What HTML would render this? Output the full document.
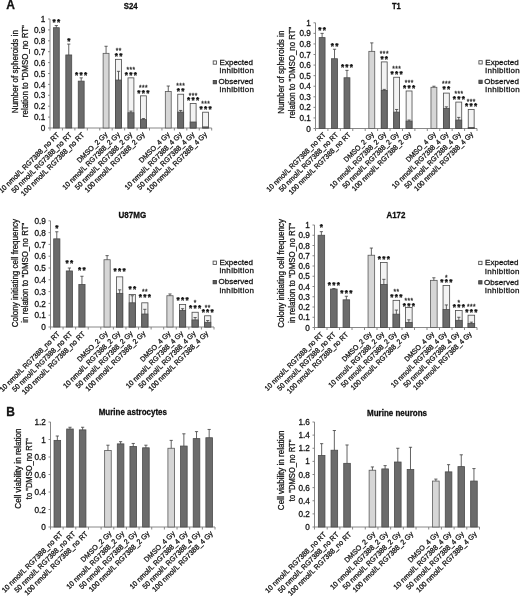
<!DOCTYPE html>
<html><head><meta charset="utf-8"><title>Figure</title>
<style>
html,body{margin:0;padding:0;background:#fff;}
body{width:520px;height:597px;overflow:hidden;}
svg{display:block;font-family:"Liberation Sans", sans-serif;}
svg text{fill:#141414;stroke:#141414;stroke-width:0.28px;}
</style></head><body>
<svg width="520" height="597" viewBox="0 0 520 597">
<rect width="520" height="597" fill="#ffffff"/>
<text x="6.3" y="9.2" font-size="12" font-weight="bold" style="fill:#111">A</text>
<text x="6.3" y="416" font-size="12" font-weight="bold" style="fill:#111">B</text>
<path d="M50 19V128H211.7" fill="none" stroke="#7a7a7a" stroke-width="0.9"/>
<text x="45.3" y="131.1" text-anchor="end" font-size="8.2">0</text>
<text x="45.3" y="120.2" text-anchor="end" font-size="8.2">0.1</text>
<text x="45.3" y="109.3" text-anchor="end" font-size="8.2">0.2</text>
<text x="45.3" y="98.4" text-anchor="end" font-size="8.2">0.3</text>
<text x="45.3" y="87.5" text-anchor="end" font-size="8.2">0.4</text>
<text x="45.3" y="76.6" text-anchor="end" font-size="8.2">0.5</text>
<text x="45.3" y="65.7" text-anchor="end" font-size="8.2">0.6</text>
<text x="45.3" y="54.8" text-anchor="end" font-size="8.2">0.7</text>
<text x="45.3" y="43.9" text-anchor="end" font-size="8.2">0.8</text>
<text x="45.3" y="33" text-anchor="end" font-size="8.2">0.9</text>
<text x="45.3" y="22.1" text-anchor="end" font-size="8.2">1</text>
<path d="M48 128H50M48 117.1H50M48 106.2H50M48 95.3H50M48 84.4H50M48 73.5H50M48 62.6H50M48 51.7H50M48 40.8H50M48 29.9H50M48 19H50M50 128V130.5M62.44 128V130.5M74.88 128V130.5M87.32 128V130.5M99.75 128V130.5M112.19 128V130.5M124.63 128V130.5M137.07 128V130.5M149.51 128V130.5M161.95 128V130.5M174.38 128V130.5M186.82 128V130.5M199.26 128V130.5M211.7 128V130.5" stroke="#7a7a7a" stroke-width="0.9" fill="none"/>
<rect x="53.37" y="27.72" width="5.9" height="100.28" fill="#6b6b6b" stroke="#4a4a4a" stroke-width="0.8"/>
<path d="M56.32 27.72V25.54M54.72 25.54H57.92" stroke="#3c3c3c" stroke-width="0.8" fill="none"/>
<text x="56.97" y="25.42" text-anchor="middle" font-size="8.2" font-weight="bold" letter-spacing="1.3" style="fill:#0a0a0a;stroke:#0a0a0a;stroke-width:0.25">**</text>
<rect x="65.81" y="54.97" width="5.9" height="73.03" fill="#6b6b6b" stroke="#4a4a4a" stroke-width="0.8"/>
<path d="M68.76 54.97V44.07M67.16 44.07H70.36" stroke="#3c3c3c" stroke-width="0.8" fill="none"/>
<text x="69.41" y="43.95" text-anchor="middle" font-size="8.2" font-weight="bold" letter-spacing="1.3" style="fill:#0a0a0a;stroke:#0a0a0a;stroke-width:0.25">*</text>
<rect x="78.25" y="81.13" width="5.9" height="46.87" fill="#6b6b6b" stroke="#4a4a4a" stroke-width="0.8"/>
<path d="M81.2 81.13V77.86M79.6 77.86H82.8" stroke="#3c3c3c" stroke-width="0.8" fill="none"/>
<text x="81.85" y="77.74" text-anchor="middle" font-size="8.2" font-weight="bold" letter-spacing="1.3" style="fill:#0a0a0a;stroke:#0a0a0a;stroke-width:0.25">***</text>
<rect x="103.12" y="53.33" width="5.9" height="74.67" fill="#d6d6d6" stroke="#5a5a5a" stroke-width="0.8"/>
<path d="M106.07 53.33V46.25M104.47 46.25H107.67" stroke="#3c3c3c" stroke-width="0.8" fill="none"/>
<rect x="115.56" y="59.33" width="5.9" height="68.67" fill="#f3f3f3" stroke="#4a4a4a" stroke-width="0.8"/>
<rect x="115.56" y="80.04" width="5.9" height="47.96" fill="#6b6b6b" stroke="#4a4a4a" stroke-width="0.8"/>
<path d="M118.51 80.04V71.32M116.91 71.32H120.11" stroke="#3c3c3c" stroke-width="0.8" fill="none"/>
<text x="119.16" y="59.21" text-anchor="middle" font-size="8.2" font-weight="bold" letter-spacing="1.3" style="fill:#0a0a0a;stroke:#0a0a0a;stroke-width:0.25">**</text>
<text x="118.66" y="53.46" text-anchor="middle" font-size="6.6" letter-spacing="0.45" style="fill:#333;stroke:#333;stroke-width:0.3">**</text>
<rect x="128" y="77.86" width="5.9" height="50.14" fill="#f3f3f3" stroke="#4a4a4a" stroke-width="0.8"/>
<rect x="128" y="112.74" width="5.9" height="15.26" fill="#6b6b6b" stroke="#4a4a4a" stroke-width="0.8"/>
<path d="M130.95 112.74V111.1M129.35 111.1H132.55" stroke="#3c3c3c" stroke-width="0.8" fill="none"/>
<text x="131.6" y="77.74" text-anchor="middle" font-size="8.2" font-weight="bold" letter-spacing="1.3" style="fill:#0a0a0a;stroke:#0a0a0a;stroke-width:0.25">***</text>
<text x="131.1" y="71.99" text-anchor="middle" font-size="6.6" letter-spacing="0.45" style="fill:#333;stroke:#333;stroke-width:0.3">***</text>
<rect x="140.44" y="95.84" width="5.9" height="32.16" fill="#f3f3f3" stroke="#4a4a4a" stroke-width="0.8"/>
<rect x="140.44" y="119.61" width="5.9" height="8.39" fill="#6b6b6b" stroke="#4a4a4a" stroke-width="0.8"/>
<path d="M143.39 119.61V118.52M141.79 118.52H144.99" stroke="#3c3c3c" stroke-width="0.8" fill="none"/>
<text x="144.04" y="95.73" text-anchor="middle" font-size="8.2" font-weight="bold" letter-spacing="1.3" style="fill:#0a0a0a;stroke:#0a0a0a;stroke-width:0.25">***</text>
<text x="143.54" y="89.98" text-anchor="middle" font-size="6.6" letter-spacing="0.45" style="fill:#333;stroke:#333;stroke-width:0.3">***</text>
<rect x="165.32" y="91.48" width="5.9" height="36.52" fill="#d6d6d6" stroke="#5a5a5a" stroke-width="0.8"/>
<path d="M168.27 91.48V86.03M166.67 86.03H169.87" stroke="#3c3c3c" stroke-width="0.8" fill="none"/>
<rect x="177.75" y="94.21" width="5.9" height="33.79" fill="#f3f3f3" stroke="#4a4a4a" stroke-width="0.8"/>
<rect x="177.75" y="112.09" width="5.9" height="15.91" fill="#6b6b6b" stroke="#4a4a4a" stroke-width="0.8"/>
<path d="M180.7 112.09V110.45M179.1 110.45H182.3" stroke="#3c3c3c" stroke-width="0.8" fill="none"/>
<text x="181.35" y="94.09" text-anchor="middle" font-size="8.2" font-weight="bold" letter-spacing="1.3" style="fill:#0a0a0a;stroke:#0a0a0a;stroke-width:0.25">**</text>
<text x="180.85" y="88.34" text-anchor="middle" font-size="6.6" letter-spacing="0.45" style="fill:#333;stroke:#333;stroke-width:0.3">***</text>
<rect x="190.19" y="103.47" width="5.9" height="24.53" fill="#f3f3f3" stroke="#4a4a4a" stroke-width="0.8"/>
<rect x="190.19" y="122" width="5.9" height="6" fill="#6b6b6b" stroke="#4a4a4a" stroke-width="0.8"/>
<text x="193.79" y="103.36" text-anchor="middle" font-size="8.2" font-weight="bold" letter-spacing="1.3" style="fill:#0a0a0a;stroke:#0a0a0a;stroke-width:0.25">***</text>
<text x="193.29" y="97.61" text-anchor="middle" font-size="6.6" letter-spacing="0.45" style="fill:#333;stroke:#333;stroke-width:0.3">***</text>
<rect x="202.63" y="112.19" width="5.9" height="15.81" fill="#f3f3f3" stroke="#4a4a4a" stroke-width="0.8"/>
<rect x="202.63" y="126.91" width="5.9" height="1.09" fill="#6b6b6b" stroke="#4a4a4a" stroke-width="0.8"/>
<text x="206.23" y="112.08" text-anchor="middle" font-size="8.2" font-weight="bold" letter-spacing="1.3" style="fill:#0a0a0a;stroke:#0a0a0a;stroke-width:0.25">***</text>
<text x="205.73" y="106.33" text-anchor="middle" font-size="6.6" letter-spacing="0.45" style="fill:#333;stroke:#333;stroke-width:0.3">***</text>
<text transform="translate(59.82 135.5) rotate(-45) scale(0.985 1)" text-anchor="end" font-size="7.2">10 nmol/L RG7388_no RT</text>
<text transform="translate(72.26 135.5) rotate(-45) scale(0.985 1)" text-anchor="end" font-size="7.2">50 nmol/L RG7388_no RT</text>
<text transform="translate(84.7 135.5) rotate(-45) scale(0.985 1)" text-anchor="end" font-size="7.2">100 nmol/L RG7388_no RT</text>
<text transform="translate(107.97 135) rotate(-45) scale(0.985 1)" text-anchor="end" font-size="7.2">DMSO_2 Gy</text>
<text transform="translate(120.41 135) rotate(-45) scale(0.985 1)" text-anchor="end" font-size="7.2">10 nmol/L RG7388_2 Gy</text>
<text transform="translate(132.85 135) rotate(-45) scale(0.985 1)" text-anchor="end" font-size="7.2">50 nmol/L RG7388_2 Gy</text>
<text transform="translate(145.29 135) rotate(-45) scale(0.985 1)" text-anchor="end" font-size="7.2">100 nmol/L RG7388_2 Gy</text>
<text transform="translate(170.17 135) rotate(-45) scale(0.985 1)" text-anchor="end" font-size="7.2">DMSO_4 Gy</text>
<text transform="translate(182.6 135) rotate(-45) scale(0.985 1)" text-anchor="end" font-size="7.2">10 nmol/L RG7388_4 Gy</text>
<text transform="translate(195.04 135) rotate(-45) scale(0.985 1)" text-anchor="end" font-size="7.2">50 nmol/L RG7388_4 Gy</text>
<text transform="translate(207.48 135) rotate(-45) scale(0.985 1)" text-anchor="end" font-size="7.2">100 nmol/L RG7388_4 Gy</text>
<text transform="translate(130.7 9) scale(0.9300 1)" text-anchor="middle" font-size="8.4" font-weight="bold" style="fill:#0a0a0a">S24</text>
<text transform="translate(17.5 71.65) rotate(-90) scale(0.9456 1)" text-anchor="middle" font-size="8.5">Number of spheroids in</text>
<text transform="translate(27.6 71.1) rotate(-90) scale(0.9318 1)" text-anchor="middle" font-size="8.5">relation to "DMSO_no RT"</text>
<rect x="213.2" y="60.9" width="3.3" height="3.3" fill="#fafafa" stroke="#4a4a4a" stroke-width="0.85"/>
<text x="219.6" y="64.8" font-size="8">Expected</text>
<text x="219.6" y="72.5" font-size="8" letter-spacing="0.32">inhibition</text>
<rect x="213.2" y="80.5" width="3.3" height="3.3" fill="#5e5e5e" stroke="#3c3c3c" stroke-width="0.85"/>
<text x="218.6" y="84.4" font-size="8">Observed</text>
<text x="219.6" y="92.1" font-size="8" letter-spacing="0.32">inhibition</text>
<path d="M315.5 22.8V128.5H477" fill="none" stroke="#7a7a7a" stroke-width="0.9"/>
<text x="310.8" y="131.6" text-anchor="end" font-size="8.2">0</text>
<text x="310.8" y="121.03" text-anchor="end" font-size="8.2">0.1</text>
<text x="310.8" y="110.46" text-anchor="end" font-size="8.2">0.2</text>
<text x="310.8" y="99.89" text-anchor="end" font-size="8.2">0.3</text>
<text x="310.8" y="89.32" text-anchor="end" font-size="8.2">0.4</text>
<text x="310.8" y="78.75" text-anchor="end" font-size="8.2">0.5</text>
<text x="310.8" y="68.18" text-anchor="end" font-size="8.2">0.6</text>
<text x="310.8" y="57.61" text-anchor="end" font-size="8.2">0.7</text>
<text x="310.8" y="47.04" text-anchor="end" font-size="8.2">0.8</text>
<text x="310.8" y="36.47" text-anchor="end" font-size="8.2">0.9</text>
<text x="310.8" y="25.9" text-anchor="end" font-size="8.2">1</text>
<path d="M313.5 128.5H315.5M313.5 117.93H315.5M313.5 107.36H315.5M313.5 96.79H315.5M313.5 86.22H315.5M313.5 75.65H315.5M313.5 65.08H315.5M313.5 54.51H315.5M313.5 43.94H315.5M313.5 33.37H315.5M313.5 22.8H315.5M315.5 128.5V131M327.92 128.5V131M340.35 128.5V131M352.77 128.5V131M365.19 128.5V131M377.62 128.5V131M390.04 128.5V131M402.46 128.5V131M414.88 128.5V131M427.31 128.5V131M439.73 128.5V131M452.15 128.5V131M464.58 128.5V131M477 128.5V131" stroke="#7a7a7a" stroke-width="0.9" fill="none"/>
<rect x="319.16" y="37.6" width="5.9" height="90.9" fill="#6b6b6b" stroke="#4a4a4a" stroke-width="0.8"/>
<path d="M322.11 37.6V33.37M320.51 33.37H323.71" stroke="#3c3c3c" stroke-width="0.8" fill="none"/>
<text x="322.76" y="33.25" text-anchor="middle" font-size="8.2" font-weight="bold" letter-spacing="1.3" style="fill:#0a0a0a;stroke:#0a0a0a;stroke-width:0.25">**</text>
<rect x="331.58" y="58.74" width="5.9" height="69.76" fill="#6b6b6b" stroke="#4a4a4a" stroke-width="0.8"/>
<path d="M334.53 58.74V49.22M332.93 49.22H336.13" stroke="#3c3c3c" stroke-width="0.8" fill="none"/>
<text x="335.18" y="49.11" text-anchor="middle" font-size="8.2" font-weight="bold" letter-spacing="1.3" style="fill:#0a0a0a;stroke:#0a0a0a;stroke-width:0.25">**</text>
<rect x="344.01" y="77.76" width="5.9" height="50.74" fill="#6b6b6b" stroke="#4a4a4a" stroke-width="0.8"/>
<path d="M346.96 77.76V70.36M345.36 70.36H348.56" stroke="#3c3c3c" stroke-width="0.8" fill="none"/>
<text x="347.61" y="70.25" text-anchor="middle" font-size="8.2" font-weight="bold" letter-spacing="1.3" style="fill:#0a0a0a;stroke:#0a0a0a;stroke-width:0.25">***</text>
<rect x="368.85" y="51.34" width="5.9" height="77.16" fill="#d6d6d6" stroke="#5a5a5a" stroke-width="0.8"/>
<path d="M371.8 51.34V42.88M370.2 42.88H373.4" stroke="#3c3c3c" stroke-width="0.8" fill="none"/>
<rect x="381.28" y="61.91" width="5.9" height="66.59" fill="#f3f3f3" stroke="#4a4a4a" stroke-width="0.8"/>
<rect x="381.28" y="90.45" width="5.9" height="38.05" fill="#6b6b6b" stroke="#4a4a4a" stroke-width="0.8"/>
<path d="M384.23 90.45V89.39M382.63 89.39H385.83" stroke="#3c3c3c" stroke-width="0.8" fill="none"/>
<text x="384.88" y="61.79" text-anchor="middle" font-size="8.2" font-weight="bold" letter-spacing="1.3" style="fill:#0a0a0a;stroke:#0a0a0a;stroke-width:0.25">**</text>
<text x="384.38" y="56.04" text-anchor="middle" font-size="6.6" letter-spacing="0.45" style="fill:#333;stroke:#333;stroke-width:0.3">***</text>
<rect x="393.7" y="77.24" width="5.9" height="51.26" fill="#f3f3f3" stroke="#4a4a4a" stroke-width="0.8"/>
<rect x="393.7" y="112.12" width="5.9" height="16.38" fill="#6b6b6b" stroke="#4a4a4a" stroke-width="0.8"/>
<path d="M396.65 112.12V109.47M395.05 109.47H398.25" stroke="#3c3c3c" stroke-width="0.8" fill="none"/>
<text x="397.3" y="77.12" text-anchor="middle" font-size="8.2" font-weight="bold" letter-spacing="1.3" style="fill:#0a0a0a;stroke:#0a0a0a;stroke-width:0.25">***</text>
<text x="396.8" y="71.37" text-anchor="middle" font-size="6.6" letter-spacing="0.45" style="fill:#333;stroke:#333;stroke-width:0.3">***</text>
<rect x="406.12" y="90.98" width="5.9" height="37.52" fill="#f3f3f3" stroke="#4a4a4a" stroke-width="0.8"/>
<rect x="406.12" y="121.1" width="5.9" height="7.4" fill="#6b6b6b" stroke="#4a4a4a" stroke-width="0.8"/>
<path d="M409.07 121.1V120.04M407.47 120.04H410.67" stroke="#3c3c3c" stroke-width="0.8" fill="none"/>
<text x="409.72" y="90.86" text-anchor="middle" font-size="8.2" font-weight="bold" letter-spacing="1.3" style="fill:#0a0a0a;stroke:#0a0a0a;stroke-width:0.25">***</text>
<text x="409.22" y="85.11" text-anchor="middle" font-size="6.6" letter-spacing="0.45" style="fill:#333;stroke:#333;stroke-width:0.3">***</text>
<rect x="430.97" y="87.28" width="5.9" height="41.22" fill="#d6d6d6" stroke="#5a5a5a" stroke-width="0.8"/>
<path d="M433.92 87.28V86.22M432.32 86.22H435.52" stroke="#3c3c3c" stroke-width="0.8" fill="none"/>
<rect x="443.39" y="93.09" width="5.9" height="35.41" fill="#f3f3f3" stroke="#4a4a4a" stroke-width="0.8"/>
<rect x="443.39" y="108.42" width="5.9" height="20.08" fill="#6b6b6b" stroke="#4a4a4a" stroke-width="0.8"/>
<path d="M446.34 108.42V106.83M444.74 106.83H447.94" stroke="#3c3c3c" stroke-width="0.8" fill="none"/>
<text x="446.99" y="91.77" text-anchor="middle" font-size="8.2" font-weight="bold" letter-spacing="1.3" style="fill:#0a0a0a;stroke:#0a0a0a;stroke-width:0.25">**</text>
<text x="446.49" y="86.02" text-anchor="middle" font-size="6.6" letter-spacing="0.45" style="fill:#333;stroke:#333;stroke-width:0.3">***</text>
<rect x="455.82" y="102.08" width="5.9" height="26.42" fill="#f3f3f3" stroke="#4a4a4a" stroke-width="0.8"/>
<rect x="455.82" y="120.04" width="5.9" height="8.46" fill="#6b6b6b" stroke="#4a4a4a" stroke-width="0.8"/>
<path d="M458.77 120.04V117.4M457.17 117.4H460.37" stroke="#3c3c3c" stroke-width="0.8" fill="none"/>
<text x="459.42" y="101.96" text-anchor="middle" font-size="8.2" font-weight="bold" letter-spacing="1.3" style="fill:#0a0a0a;stroke:#0a0a0a;stroke-width:0.25">***</text>
<text x="458.92" y="96.21" text-anchor="middle" font-size="6.6" letter-spacing="0.45" style="fill:#333;stroke:#333;stroke-width:0.3">***</text>
<rect x="468.24" y="109.47" width="5.9" height="19.03" fill="#f3f3f3" stroke="#4a4a4a" stroke-width="0.8"/>
<rect x="468.24" y="127.44" width="5.9" height="1.06" fill="#6b6b6b" stroke="#4a4a4a" stroke-width="0.8"/>
<text x="471.84" y="109.36" text-anchor="middle" font-size="8.2" font-weight="bold" letter-spacing="1.3" style="fill:#0a0a0a;stroke:#0a0a0a;stroke-width:0.25">***</text>
<text x="471.34" y="103.61" text-anchor="middle" font-size="6.6" letter-spacing="0.45" style="fill:#333;stroke:#333;stroke-width:0.3">***</text>
<text transform="translate(326.31 135.3) rotate(-45) scale(0.965 1)" text-anchor="end" font-size="7.2">10 nmol/L RG7388_no RT</text>
<text transform="translate(338.73 135.3) rotate(-45) scale(0.965 1)" text-anchor="end" font-size="7.2">50 nmol/L RG7388_no RT</text>
<text transform="translate(351.16 135.3) rotate(-45) scale(0.965 1)" text-anchor="end" font-size="7.2">100 nmol/L RG7388_no RT</text>
<text transform="translate(374.4 134.8) rotate(-45) scale(0.965 1)" text-anchor="end" font-size="7.2">DMSO_2 Gy</text>
<text transform="translate(386.83 134.8) rotate(-45) scale(0.965 1)" text-anchor="end" font-size="7.2">10 nmol/L RG7388_2 Gy</text>
<text transform="translate(399.25 134.8) rotate(-45) scale(0.965 1)" text-anchor="end" font-size="7.2">50 nmol/L RG7388_2 Gy</text>
<text transform="translate(411.67 134.8) rotate(-45) scale(0.965 1)" text-anchor="end" font-size="7.2">100 nmol/L RG7388_2 Gy</text>
<text transform="translate(436.52 134.8) rotate(-45) scale(0.965 1)" text-anchor="end" font-size="7.2">DMSO_4 Gy</text>
<text transform="translate(448.94 134.8) rotate(-45) scale(0.965 1)" text-anchor="end" font-size="7.2">10 nmol/L RG7388_4 Gy</text>
<text transform="translate(461.37 134.8) rotate(-45) scale(0.965 1)" text-anchor="end" font-size="7.2">50 nmol/L RG7388_4 Gy</text>
<text transform="translate(473.79 134.8) rotate(-45) scale(0.965 1)" text-anchor="end" font-size="7.2">100 nmol/L RG7388_4 Gy</text>
<text transform="translate(396.4 8.8) scale(0.8977 1)" text-anchor="middle" font-size="8.4" font-weight="bold" style="fill:#0a0a0a">T1</text>
<text transform="translate(283.7 72.15) rotate(-90) scale(0.9456 1)" text-anchor="middle" font-size="8.5">Number of spheroids in</text>
<text transform="translate(295 72.4) rotate(-90) scale(0.9258 1)" text-anchor="middle" font-size="8.5">relation to "DMSO_no RT"</text>
<rect x="478.9" y="60.7" width="3.3" height="3.3" fill="#fafafa" stroke="#4a4a4a" stroke-width="0.85"/>
<text x="485.3" y="64.6" font-size="8">Expected</text>
<text x="485.3" y="72.9" font-size="8" letter-spacing="0.32">inhibition</text>
<rect x="478.9" y="80.2" width="3.3" height="3.3" fill="#5e5e5e" stroke="#3c3c3c" stroke-width="0.85"/>
<text x="484.3" y="84.1" font-size="8">Observed</text>
<text x="485.3" y="92.3" font-size="8" letter-spacing="0.32">inhibition</text>
<path d="M50.5 220.8V327H214" fill="none" stroke="#7a7a7a" stroke-width="0.9"/>
<text x="45.8" y="330.1" text-anchor="end" font-size="8.2">0</text>
<text x="45.8" y="318.3" text-anchor="end" font-size="8.2">0.1</text>
<text x="45.8" y="306.5" text-anchor="end" font-size="8.2">0.2</text>
<text x="45.8" y="294.7" text-anchor="end" font-size="8.2">0.3</text>
<text x="45.8" y="282.9" text-anchor="end" font-size="8.2">0.4</text>
<text x="45.8" y="271.1" text-anchor="end" font-size="8.2">0.5</text>
<text x="45.8" y="259.3" text-anchor="end" font-size="8.2">0.6</text>
<text x="45.8" y="247.5" text-anchor="end" font-size="8.2">0.7</text>
<text x="45.8" y="235.7" text-anchor="end" font-size="8.2">0.8</text>
<text x="45.8" y="223.9" text-anchor="end" font-size="8.2">0.9</text>
<path d="M48.5 327H50.5M48.5 315.2H50.5M48.5 303.4H50.5M48.5 291.6H50.5M48.5 279.8H50.5M48.5 268H50.5M48.5 256.2H50.5M48.5 244.4H50.5M48.5 232.6H50.5M48.5 220.8H50.5M50.5 327V329.5M63.08 327V329.5M75.65 327V329.5M88.23 327V329.5M100.81 327V329.5M113.38 327V329.5M125.96 327V329.5M138.54 327V329.5M151.12 327V329.5M163.69 327V329.5M176.27 327V329.5M188.85 327V329.5M201.42 327V329.5M214 327V329.5" stroke="#7a7a7a" stroke-width="0.9" fill="none"/>
<rect x="53.69" y="238.85" width="6.2" height="88.15" fill="#6b6b6b" stroke="#4a4a4a" stroke-width="0.8"/>
<path d="M56.79 238.85V231.77M55.19 231.77H58.39" stroke="#3c3c3c" stroke-width="0.8" fill="none"/>
<text x="57.44" y="230.66" text-anchor="middle" font-size="8.2" font-weight="bold" letter-spacing="1.3" style="fill:#0a0a0a;stroke:#0a0a0a;stroke-width:0.25">*</text>
<rect x="66.27" y="270.95" width="6.2" height="56.05" fill="#6b6b6b" stroke="#4a4a4a" stroke-width="0.8"/>
<path d="M69.37 270.95V268M67.77 268H70.97" stroke="#3c3c3c" stroke-width="0.8" fill="none"/>
<text x="70.02" y="265.68" text-anchor="middle" font-size="8.2" font-weight="bold" letter-spacing="1.3" style="fill:#0a0a0a;stroke:#0a0a0a;stroke-width:0.25">**</text>
<rect x="78.84" y="284.52" width="6.2" height="42.48" fill="#6b6b6b" stroke="#4a4a4a" stroke-width="0.8"/>
<path d="M81.94 284.52V276.26M80.34 276.26H83.54" stroke="#3c3c3c" stroke-width="0.8" fill="none"/>
<text x="82.59" y="273.14" text-anchor="middle" font-size="8.2" font-weight="bold" letter-spacing="1.3" style="fill:#0a0a0a;stroke:#0a0a0a;stroke-width:0.25">**</text>
<rect x="104" y="259.74" width="6.2" height="67.26" fill="#d6d6d6" stroke="#5a5a5a" stroke-width="0.8"/>
<path d="M107.1 259.74V255.61M105.5 255.61H108.7" stroke="#3c3c3c" stroke-width="0.8" fill="none"/>
<rect x="116.57" y="276.85" width="6.2" height="50.15" fill="#f3f3f3" stroke="#4a4a4a" stroke-width="0.8"/>
<rect x="116.57" y="293.37" width="6.2" height="33.63" fill="#6b6b6b" stroke="#4a4a4a" stroke-width="0.8"/>
<path d="M119.67 293.37V289.83M118.07 289.83H121.27" stroke="#3c3c3c" stroke-width="0.8" fill="none"/>
<text x="120.32" y="273.73" text-anchor="middle" font-size="8.2" font-weight="bold" letter-spacing="1.3" style="fill:#0a0a0a;stroke:#0a0a0a;stroke-width:0.25">***</text>
<rect x="129.15" y="294.55" width="6.2" height="32.45" fill="#f3f3f3" stroke="#4a4a4a" stroke-width="0.8"/>
<rect x="129.15" y="302.81" width="6.2" height="24.19" fill="#6b6b6b" stroke="#4a4a4a" stroke-width="0.8"/>
<path d="M132.25 302.81V295.73M130.65 295.73H133.85" stroke="#3c3c3c" stroke-width="0.8" fill="none"/>
<text x="132.9" y="292.43" text-anchor="middle" font-size="8.2" font-weight="bold" letter-spacing="1.3" style="fill:#0a0a0a;stroke:#0a0a0a;stroke-width:0.25">**</text>
<rect x="141.73" y="302.81" width="6.2" height="24.19" fill="#f3f3f3" stroke="#4a4a4a" stroke-width="0.8"/>
<rect x="141.73" y="314.02" width="6.2" height="12.98" fill="#6b6b6b" stroke="#4a4a4a" stroke-width="0.8"/>
<path d="M144.83 314.02V309.3M143.23 309.3H146.43" stroke="#3c3c3c" stroke-width="0.8" fill="none"/>
<text x="145.48" y="300.29" text-anchor="middle" font-size="8.2" font-weight="bold" letter-spacing="1.3" style="fill:#0a0a0a;stroke:#0a0a0a;stroke-width:0.25">***</text>
<text x="144.98" y="293.54" text-anchor="middle" font-size="6.6" letter-spacing="0.45" style="fill:#333;stroke:#333;stroke-width:0.3">**</text>
<rect x="166.88" y="295.73" width="6.2" height="31.27" fill="#d6d6d6" stroke="#5a5a5a" stroke-width="0.8"/>
<path d="M169.98 295.73V293.96M168.38 293.96H171.58" stroke="#3c3c3c" stroke-width="0.8" fill="none"/>
<rect x="179.46" y="304.58" width="6.2" height="22.42" fill="#f3f3f3" stroke="#4a4a4a" stroke-width="0.8"/>
<rect x="179.46" y="310.48" width="6.2" height="16.52" fill="#6b6b6b" stroke="#4a4a4a" stroke-width="0.8"/>
<path d="M182.56 310.48V308.71M180.96 308.71H184.16" stroke="#3c3c3c" stroke-width="0.8" fill="none"/>
<text x="183.21" y="302.86" text-anchor="middle" font-size="8.2" font-weight="bold" letter-spacing="1.3" style="fill:#0a0a0a;stroke:#0a0a0a;stroke-width:0.25">***</text>
<rect x="192.03" y="312.25" width="6.2" height="14.75" fill="#f3f3f3" stroke="#4a4a4a" stroke-width="0.8"/>
<rect x="192.03" y="319.92" width="6.2" height="7.08" fill="#6b6b6b" stroke="#4a4a4a" stroke-width="0.8"/>
<path d="M195.13 319.92V317.56M193.53 317.56H196.73" stroke="#3c3c3c" stroke-width="0.8" fill="none"/>
<text x="195.78" y="310.93" text-anchor="middle" font-size="8.2" font-weight="bold" letter-spacing="1.3" style="fill:#0a0a0a;stroke:#0a0a0a;stroke-width:0.25">***</text>
<text x="195.28" y="305.38" text-anchor="middle" font-size="6.6" letter-spacing="0.45" style="fill:#333;stroke:#333;stroke-width:0.3">*</text>
<rect x="204.61" y="315.79" width="6.2" height="11.21" fill="#f3f3f3" stroke="#4a4a4a" stroke-width="0.8"/>
<rect x="204.61" y="322.28" width="6.2" height="4.72" fill="#6b6b6b" stroke="#4a4a4a" stroke-width="0.8"/>
<path d="M207.71 322.28V320.51M206.11 320.51H209.31" stroke="#3c3c3c" stroke-width="0.8" fill="none"/>
<text x="208.36" y="315.27" text-anchor="middle" font-size="8.2" font-weight="bold" letter-spacing="1.3" style="fill:#0a0a0a;stroke:#0a0a0a;stroke-width:0.25">***</text>
<text x="207.86" y="309.92" text-anchor="middle" font-size="6.6" letter-spacing="0.45" style="fill:#333;stroke:#333;stroke-width:0.3">**</text>
<text transform="translate(60.29 334.5) rotate(-45) scale(0.98 1)" text-anchor="end" font-size="7.2">10 nmol/L RG7388_no RT</text>
<text transform="translate(72.87 334.5) rotate(-45) scale(0.98 1)" text-anchor="end" font-size="7.2">50 nmol/L RG7388_no RT</text>
<text transform="translate(85.44 334.5) rotate(-45) scale(0.98 1)" text-anchor="end" font-size="7.2">100 nmol/L RG7388_no RT</text>
<text transform="translate(108.2 334) rotate(-45) scale(0.98 1)" text-anchor="end" font-size="7.2">DMSO_2 Gy</text>
<text transform="translate(120.77 334) rotate(-45) scale(0.98 1)" text-anchor="end" font-size="7.2">10 nmol/L RG7388_2 Gy</text>
<text transform="translate(133.35 334) rotate(-45) scale(0.98 1)" text-anchor="end" font-size="7.2">50 nmol/L RG7388_2 Gy</text>
<text transform="translate(145.93 334) rotate(-45) scale(0.98 1)" text-anchor="end" font-size="7.2">100 nmol/L RG7388_2 Gy</text>
<text transform="translate(171.08 334) rotate(-45) scale(0.98 1)" text-anchor="end" font-size="7.2">DMSO_4 Gy</text>
<text transform="translate(183.66 334) rotate(-45) scale(0.98 1)" text-anchor="end" font-size="7.2">10 nmol/L RG7388_4 Gy</text>
<text transform="translate(196.23 334) rotate(-45) scale(0.98 1)" text-anchor="end" font-size="7.2">50 nmol/L RG7388_4 Gy</text>
<text transform="translate(208.81 334) rotate(-45) scale(0.98 1)" text-anchor="end" font-size="7.2">100 nmol/L RG7388_4 Gy</text>
<text transform="translate(132.4 218.2) scale(0.9571 1)" text-anchor="middle" font-size="8.4" font-weight="bold" style="fill:#0a0a0a">U87MG</text>
<text transform="translate(17.5 273.15) rotate(-90) scale(0.9433 1)" text-anchor="middle" font-size="8.5">Colony initiating cell frequency</text>
<text transform="translate(27.8 272.65) rotate(-90) scale(0.9275 1)" text-anchor="middle" font-size="8.5">in relation to "DMSO_no RT"</text>
<rect x="213.1" y="261.1" width="3.3" height="3.3" fill="#fafafa" stroke="#4a4a4a" stroke-width="0.85"/>
<text x="219.5" y="265" font-size="8">Expected</text>
<text x="219.5" y="273.1" font-size="8" letter-spacing="0.32">inhibition</text>
<rect x="213.1" y="280.5" width="3.3" height="3.3" fill="#5e5e5e" stroke="#3c3c3c" stroke-width="0.85"/>
<text x="218.5" y="284.4" font-size="8">Observed</text>
<text x="219.5" y="292.7" font-size="8" letter-spacing="0.32">inhibition</text>
<path d="M314.5 225V327.5H477" fill="none" stroke="#7a7a7a" stroke-width="0.9"/>
<text x="309.8" y="330.6" text-anchor="end" font-size="8.2">0</text>
<text x="309.8" y="320.35" text-anchor="end" font-size="8.2">0.1</text>
<text x="309.8" y="310.1" text-anchor="end" font-size="8.2">0.2</text>
<text x="309.8" y="299.85" text-anchor="end" font-size="8.2">0.3</text>
<text x="309.8" y="289.6" text-anchor="end" font-size="8.2">0.4</text>
<text x="309.8" y="279.35" text-anchor="end" font-size="8.2">0.5</text>
<text x="309.8" y="269.1" text-anchor="end" font-size="8.2">0.6</text>
<text x="309.8" y="258.85" text-anchor="end" font-size="8.2">0.7</text>
<text x="309.8" y="248.6" text-anchor="end" font-size="8.2">0.8</text>
<text x="309.8" y="238.35" text-anchor="end" font-size="8.2">0.9</text>
<text x="309.8" y="228.1" text-anchor="end" font-size="8.2">1</text>
<path d="M312.5 327.5H314.5M312.5 317.25H314.5M312.5 307H314.5M312.5 296.75H314.5M312.5 286.5H314.5M312.5 276.25H314.5M312.5 266H314.5M312.5 255.75H314.5M312.5 245.5H314.5M312.5 235.25H314.5M312.5 225H314.5M314.5 327.5V330M327 327.5V330M339.5 327.5V330M352 327.5V330M364.5 327.5V330M377 327.5V330M389.5 327.5V330M402 327.5V330M414.5 327.5V330M427 327.5V330M439.5 327.5V330M452 327.5V330M464.5 327.5V330M477 327.5V330" stroke="#7a7a7a" stroke-width="0.9" fill="none"/>
<rect x="318.05" y="235.25" width="6.6" height="92.25" fill="#6b6b6b" stroke="#4a4a4a" stroke-width="0.8"/>
<path d="M321.35 235.25V231.66M319.75 231.66H322.95" stroke="#3c3c3c" stroke-width="0.8" fill="none"/>
<text x="322" y="229.94" text-anchor="middle" font-size="8.2" font-weight="bold" letter-spacing="1.3" style="fill:#0a0a0a;stroke:#0a0a0a;stroke-width:0.25">*</text>
<rect x="330.55" y="289.06" width="6.6" height="38.44" fill="#6b6b6b" stroke="#4a4a4a" stroke-width="0.8"/>
<path d="M333.85 289.06V288.55M332.25 288.55H335.45" stroke="#3c3c3c" stroke-width="0.8" fill="none"/>
<text x="334.5" y="288.43" text-anchor="middle" font-size="8.2" font-weight="bold" letter-spacing="1.3" style="fill:#0a0a0a;stroke:#0a0a0a;stroke-width:0.25">***</text>
<rect x="343.05" y="299.82" width="6.6" height="27.68" fill="#6b6b6b" stroke="#4a4a4a" stroke-width="0.8"/>
<path d="M346.35 299.82V296.24M344.75 296.24H347.95" stroke="#3c3c3c" stroke-width="0.8" fill="none"/>
<text x="347" y="296.12" text-anchor="middle" font-size="8.2" font-weight="bold" letter-spacing="1.3" style="fill:#0a0a0a;stroke:#0a0a0a;stroke-width:0.25">***</text>
<rect x="368.05" y="255.24" width="6.6" height="72.26" fill="#d6d6d6" stroke="#5a5a5a" stroke-width="0.8"/>
<path d="M371.35 255.24V248.06M369.75 248.06H372.95" stroke="#3c3c3c" stroke-width="0.8" fill="none"/>
<rect x="380.55" y="262.41" width="6.6" height="65.09" fill="#f3f3f3" stroke="#4a4a4a" stroke-width="0.8"/>
<rect x="380.55" y="284.45" width="6.6" height="43.05" fill="#6b6b6b" stroke="#4a4a4a" stroke-width="0.8"/>
<path d="M383.85 284.45V279.32M382.25 279.32H385.45" stroke="#3c3c3c" stroke-width="0.8" fill="none"/>
<text x="384.5" y="262.29" text-anchor="middle" font-size="8.2" font-weight="bold" letter-spacing="1.3" style="fill:#0a0a0a;stroke:#0a0a0a;stroke-width:0.25">***</text>
<rect x="393.05" y="300.34" width="6.6" height="27.16" fill="#f3f3f3" stroke="#4a4a4a" stroke-width="0.8"/>
<rect x="393.05" y="314.18" width="6.6" height="13.32" fill="#6b6b6b" stroke="#4a4a4a" stroke-width="0.8"/>
<path d="M396.35 314.18V310.07M394.75 310.07H397.95" stroke="#3c3c3c" stroke-width="0.8" fill="none"/>
<text x="397" y="300.22" text-anchor="middle" font-size="8.2" font-weight="bold" letter-spacing="1.3" style="fill:#0a0a0a;stroke:#0a0a0a;stroke-width:0.25">***</text>
<text x="396.5" y="294.47" text-anchor="middle" font-size="6.6" letter-spacing="0.45" style="fill:#333;stroke:#333;stroke-width:0.3">**</text>
<rect x="405.55" y="307.51" width="6.6" height="19.99" fill="#f3f3f3" stroke="#4a4a4a" stroke-width="0.8"/>
<rect x="405.55" y="322.38" width="6.6" height="5.12" fill="#6b6b6b" stroke="#4a4a4a" stroke-width="0.8"/>
<path d="M408.85 322.38V319.81M407.25 319.81H410.45" stroke="#3c3c3c" stroke-width="0.8" fill="none"/>
<text x="409.5" y="309.19" text-anchor="middle" font-size="8.2" font-weight="bold" letter-spacing="1.3" style="fill:#0a0a0a;stroke:#0a0a0a;stroke-width:0.25">***</text>
<text x="409" y="302.74" text-anchor="middle" font-size="6.6" letter-spacing="0.45" style="fill:#333;stroke:#333;stroke-width:0.3">***</text>
<rect x="430.55" y="280.35" width="6.6" height="47.15" fill="#d6d6d6" stroke="#5a5a5a" stroke-width="0.8"/>
<path d="M433.85 280.35V277.79M432.25 277.79H435.45" stroke="#3c3c3c" stroke-width="0.8" fill="none"/>
<rect x="443.05" y="285.48" width="6.6" height="42.02" fill="#f3f3f3" stroke="#4a4a4a" stroke-width="0.8"/>
<rect x="443.05" y="309.56" width="6.6" height="17.94" fill="#6b6b6b" stroke="#4a4a4a" stroke-width="0.8"/>
<path d="M446.35 309.56V304.95M444.75 304.95H447.95" stroke="#3c3c3c" stroke-width="0.8" fill="none"/>
<text x="447" y="285.36" text-anchor="middle" font-size="8.2" font-weight="bold" letter-spacing="1.3" style="fill:#0a0a0a;stroke:#0a0a0a;stroke-width:0.25">***</text>
<text x="446.5" y="279.61" text-anchor="middle" font-size="6.6" letter-spacing="0.45" style="fill:#333;stroke:#333;stroke-width:0.3">*</text>
<rect x="455.55" y="310.59" width="6.6" height="16.91" fill="#f3f3f3" stroke="#4a4a4a" stroke-width="0.8"/>
<rect x="455.55" y="320.32" width="6.6" height="7.18" fill="#6b6b6b" stroke="#4a4a4a" stroke-width="0.8"/>
<path d="M458.85 320.32V317.25M457.25 317.25H460.45" stroke="#3c3c3c" stroke-width="0.8" fill="none"/>
<text x="459.5" y="310.47" text-anchor="middle" font-size="8.2" font-weight="bold" letter-spacing="1.3" style="fill:#0a0a0a;stroke:#0a0a0a;stroke-width:0.25">***</text>
<text x="459" y="304.72" text-anchor="middle" font-size="6.6" letter-spacing="0.45" style="fill:#333;stroke:#333;stroke-width:0.3">*</text>
<rect x="468.05" y="315.2" width="6.6" height="12.3" fill="#f3f3f3" stroke="#4a4a4a" stroke-width="0.8"/>
<rect x="468.05" y="323.4" width="6.6" height="4.1" fill="#6b6b6b" stroke="#4a4a4a" stroke-width="0.8"/>
<path d="M471.35 323.4V322.17M469.75 322.17H472.95" stroke="#3c3c3c" stroke-width="0.8" fill="none"/>
<text x="472" y="315.08" text-anchor="middle" font-size="8.2" font-weight="bold" letter-spacing="1.3" style="fill:#0a0a0a;stroke:#0a0a0a;stroke-width:0.25">***</text>
<text x="471.5" y="309.33" text-anchor="middle" font-size="6.6" letter-spacing="0.45" style="fill:#333;stroke:#333;stroke-width:0.3">***</text>
<text transform="translate(323.75 335) rotate(-45) scale(0.955 1)" text-anchor="end" font-size="7.2">10 nmol/L RG7388_no RT</text>
<text transform="translate(336.25 335) rotate(-45) scale(0.955 1)" text-anchor="end" font-size="7.2">50 nmol/L RG7388_no RT</text>
<text transform="translate(348.75 335) rotate(-45) scale(0.955 1)" text-anchor="end" font-size="7.2">100 nmol/L RG7388_no RT</text>
<text transform="translate(372.15 334.5) rotate(-45) scale(0.955 1)" text-anchor="end" font-size="7.2">DMSO_2 Gy</text>
<text transform="translate(384.65 334.5) rotate(-45) scale(0.955 1)" text-anchor="end" font-size="7.2">10 nmol/L RG7388_2 Gy</text>
<text transform="translate(397.15 334.5) rotate(-45) scale(0.955 1)" text-anchor="end" font-size="7.2">50 nmol/L RG7388_2 Gy</text>
<text transform="translate(409.65 334.5) rotate(-45) scale(0.955 1)" text-anchor="end" font-size="7.2">100 nmol/L RG7388_2 Gy</text>
<text transform="translate(434.65 334.5) rotate(-45) scale(0.955 1)" text-anchor="end" font-size="7.2">DMSO_4 Gy</text>
<text transform="translate(447.15 334.5) rotate(-45) scale(0.955 1)" text-anchor="end" font-size="7.2">10 nmol/L RG7388_4 Gy</text>
<text transform="translate(459.65 334.5) rotate(-45) scale(0.955 1)" text-anchor="end" font-size="7.2">50 nmol/L RG7388_4 Gy</text>
<text transform="translate(472.15 334.5) rotate(-45) scale(0.955 1)" text-anchor="end" font-size="7.2">100 nmol/L RG7388_4 Gy</text>
<text transform="translate(395.9 218.2) scale(0.9462 1)" text-anchor="middle" font-size="8.4" font-weight="bold" style="fill:#0a0a0a">A172</text>
<text transform="translate(284.1 273.4) rotate(-90) scale(0.9476 1)" text-anchor="middle" font-size="8.5">Colony initiating cell frequency</text>
<text transform="translate(294.6 272.9) rotate(-90) scale(0.9321 1)" text-anchor="middle" font-size="8.5">in relation to "DMSO_no RT"</text>
<rect x="478.7" y="261.3" width="3.3" height="3.3" fill="#fafafa" stroke="#4a4a4a" stroke-width="0.85"/>
<text x="485.1" y="265.2" font-size="8">Expected</text>
<text x="485.1" y="273.6" font-size="8" letter-spacing="0.32">inhibition</text>
<rect x="478.7" y="280.7" width="3.3" height="3.3" fill="#5e5e5e" stroke="#3c3c3c" stroke-width="0.85"/>
<text x="484.1" y="284.6" font-size="8">Observed</text>
<text x="485.1" y="292.8" font-size="8" letter-spacing="0.32">inhibition</text>
<path d="M50.5 422V527H215" fill="none" stroke="#7a7a7a" stroke-width="0.9"/>
<text x="45.8" y="530.1" text-anchor="end" font-size="8.2">0</text>
<text x="45.8" y="512.6" text-anchor="end" font-size="8.2">0.2</text>
<text x="45.8" y="495.1" text-anchor="end" font-size="8.2">0.4</text>
<text x="45.8" y="477.6" text-anchor="end" font-size="8.2">0.6</text>
<text x="45.8" y="460.1" text-anchor="end" font-size="8.2">0.8</text>
<text x="45.8" y="442.6" text-anchor="end" font-size="8.2">1</text>
<text x="45.8" y="425.1" text-anchor="end" font-size="8.2">1.2</text>
<path d="M48.5 527H50.5M48.5 509.5H50.5M48.5 492H50.5M48.5 474.5H50.5M48.5 457H50.5M48.5 439.5H50.5M48.5 422H50.5M50.5 527V529.5M63.15 527V529.5M75.81 527V529.5M88.46 527V529.5M101.12 527V529.5M113.77 527V529.5M126.42 527V529.5M139.08 527V529.5M151.73 527V529.5M164.38 527V529.5M177.04 527V529.5M189.69 527V529.5M202.35 527V529.5M215 527V529.5" stroke="#7a7a7a" stroke-width="0.9" fill="none"/>
<rect x="54.03" y="440.38" width="6.6" height="86.62" fill="#6b6b6b" stroke="#4a4a4a" stroke-width="0.8"/>
<path d="M57.33 440.38V436M55.73 436H58.93" stroke="#3c3c3c" stroke-width="0.8" fill="none"/>
<rect x="66.68" y="429" width="6.6" height="98" fill="#6b6b6b" stroke="#4a4a4a" stroke-width="0.8"/>
<path d="M69.98 429V427.25M68.38 427.25H71.58" stroke="#3c3c3c" stroke-width="0.8" fill="none"/>
<rect x="79.33" y="429.88" width="6.6" height="97.12" fill="#6b6b6b" stroke="#4a4a4a" stroke-width="0.8"/>
<path d="M82.63 429.88V427.25M81.03 427.25H84.23" stroke="#3c3c3c" stroke-width="0.8" fill="none"/>
<rect x="104.64" y="450.44" width="6.6" height="76.56" fill="#d6d6d6" stroke="#5a5a5a" stroke-width="0.8"/>
<path d="M107.94 450.44V445.19M106.34 445.19H109.54" stroke="#3c3c3c" stroke-width="0.8" fill="none"/>
<rect x="117.3" y="443.88" width="6.6" height="83.12" fill="#6b6b6b" stroke="#4a4a4a" stroke-width="0.8"/>
<path d="M120.6 443.88V441.69M119 441.69H122.2" stroke="#3c3c3c" stroke-width="0.8" fill="none"/>
<rect x="129.95" y="446.5" width="6.6" height="80.5" fill="#6b6b6b" stroke="#4a4a4a" stroke-width="0.8"/>
<path d="M133.25 446.5V443.44M131.65 443.44H134.85" stroke="#3c3c3c" stroke-width="0.8" fill="none"/>
<rect x="142.6" y="447.81" width="6.6" height="79.19" fill="#6b6b6b" stroke="#4a4a4a" stroke-width="0.8"/>
<path d="M145.9 447.81V445.19M144.3 445.19H147.5" stroke="#3c3c3c" stroke-width="0.8" fill="none"/>
<rect x="167.91" y="448.25" width="6.6" height="78.75" fill="#d6d6d6" stroke="#5a5a5a" stroke-width="0.8"/>
<path d="M171.21 448.25V440.38M169.61 440.38H172.81" stroke="#3c3c3c" stroke-width="0.8" fill="none"/>
<rect x="180.57" y="446.06" width="6.6" height="80.94" fill="#6b6b6b" stroke="#4a4a4a" stroke-width="0.8"/>
<path d="M183.87 446.06V433.81M182.27 433.81H185.47" stroke="#3c3c3c" stroke-width="0.8" fill="none"/>
<rect x="193.22" y="438.62" width="6.6" height="88.38" fill="#6b6b6b" stroke="#4a4a4a" stroke-width="0.8"/>
<path d="M196.52 438.62V431.62M194.92 431.62H198.12" stroke="#3c3c3c" stroke-width="0.8" fill="none"/>
<rect x="205.87" y="437.75" width="6.6" height="89.25" fill="#6b6b6b" stroke="#4a4a4a" stroke-width="0.8"/>
<path d="M209.17 437.75V429.44M207.57 429.44H210.77" stroke="#3c3c3c" stroke-width="0.8" fill="none"/>
<text transform="translate(63.13 534.5) rotate(-45) scale(0.99 1)" text-anchor="end" font-size="7.2">10 nmol/L RG7388_no RT</text>
<text transform="translate(75.78 534.5) rotate(-45) scale(0.99 1)" text-anchor="end" font-size="7.2">50 nmol/L RG7388_no RT</text>
<text transform="translate(88.43 534.5) rotate(-45) scale(0.99 1)" text-anchor="end" font-size="7.2">100 nmol/L RG7388_no RT</text>
<text transform="translate(112.14 534) rotate(-45) scale(0.99 1)" text-anchor="end" font-size="7.2">DMSO_2 Gy</text>
<text transform="translate(124.8 534) rotate(-45) scale(0.99 1)" text-anchor="end" font-size="7.2">10 nmol/L RG7388_2 Gy</text>
<text transform="translate(137.45 534) rotate(-45) scale(0.99 1)" text-anchor="end" font-size="7.2">50 nmol/L RG7388_2 Gy</text>
<text transform="translate(150.1 534) rotate(-45) scale(0.99 1)" text-anchor="end" font-size="7.2">100 nmol/L RG7388_2 Gy</text>
<text transform="translate(175.41 534) rotate(-45) scale(0.99 1)" text-anchor="end" font-size="7.2">DMSO_4 Gy</text>
<text transform="translate(188.07 534) rotate(-45) scale(0.99 1)" text-anchor="end" font-size="7.2">10 nmol/L RG7388_4 Gy</text>
<text transform="translate(200.72 534) rotate(-45) scale(0.99 1)" text-anchor="end" font-size="7.2">50 nmol/L RG7388_4 Gy</text>
<text transform="translate(213.37 534) rotate(-45) scale(0.99 1)" text-anchor="end" font-size="7.2">100 nmol/L RG7388_4 Gy</text>
<text transform="translate(132.8 414.7) scale(0.9500 1)" text-anchor="middle" font-size="8.4" font-weight="bold" style="fill:#0a0a0a">Murine astrocytes</text>
<text transform="translate(20.5 468.6) rotate(-90) scale(0.9537 1)" text-anchor="middle" font-size="8.5">Cell viability in relation</text>
<text transform="translate(31.7 468.65) rotate(-90) scale(0.8893 1)" text-anchor="middle" font-size="8.5">to "DMSO_no RT"</text>
<path d="M314.5 422V527H479.5" fill="none" stroke="#7a7a7a" stroke-width="0.9"/>
<text x="309.8" y="530.1" text-anchor="end" font-size="8.2">0</text>
<text x="309.8" y="516.98" text-anchor="end" font-size="8.2">0.2</text>
<text x="309.8" y="503.85" text-anchor="end" font-size="8.2">0.4</text>
<text x="309.8" y="490.73" text-anchor="end" font-size="8.2">0.6</text>
<text x="309.8" y="477.6" text-anchor="end" font-size="8.2">0.8</text>
<text x="309.8" y="464.48" text-anchor="end" font-size="8.2">1</text>
<text x="309.8" y="451.35" text-anchor="end" font-size="8.2">1.2</text>
<text x="309.8" y="438.23" text-anchor="end" font-size="8.2">1.4</text>
<text x="309.8" y="425.1" text-anchor="end" font-size="8.2">1.6</text>
<path d="M312.5 527H314.5M312.5 513.88H314.5M312.5 500.75H314.5M312.5 487.62H314.5M312.5 474.5H314.5M312.5 461.38H314.5M312.5 448.25H314.5M312.5 435.12H314.5M312.5 422H314.5M314.5 527V529.5M327.19 527V529.5M339.88 527V529.5M352.58 527V529.5M365.27 527V529.5M377.96 527V529.5M390.65 527V529.5M403.35 527V529.5M416.04 527V529.5M428.73 527V529.5M441.42 527V529.5M454.12 527V529.5M466.81 527V529.5M479.5 527V529.5" stroke="#7a7a7a" stroke-width="0.9" fill="none"/>
<rect x="318.35" y="455.47" width="6.6" height="71.53" fill="#6b6b6b" stroke="#4a4a4a" stroke-width="0.8"/>
<path d="M321.65 455.47V443.66M320.05 443.66H323.25" stroke="#3c3c3c" stroke-width="0.8" fill="none"/>
<rect x="331.04" y="450.22" width="6.6" height="76.78" fill="#6b6b6b" stroke="#4a4a4a" stroke-width="0.8"/>
<path d="M334.34 450.22V430.53M332.74 430.53H335.94" stroke="#3c3c3c" stroke-width="0.8" fill="none"/>
<rect x="343.73" y="463.34" width="6.6" height="63.66" fill="#6b6b6b" stroke="#4a4a4a" stroke-width="0.8"/>
<path d="M347.03 463.34V444.97M345.43 444.97H348.63" stroke="#3c3c3c" stroke-width="0.8" fill="none"/>
<rect x="369.12" y="470.23" width="6.6" height="56.77" fill="#d6d6d6" stroke="#5a5a5a" stroke-width="0.8"/>
<path d="M372.42 470.23V466.95M370.82 466.95H374.02" stroke="#3c3c3c" stroke-width="0.8" fill="none"/>
<rect x="381.81" y="468.92" width="6.6" height="58.08" fill="#6b6b6b" stroke="#4a4a4a" stroke-width="0.8"/>
<path d="M385.11 468.92V465.64M383.51 465.64H386.71" stroke="#3c3c3c" stroke-width="0.8" fill="none"/>
<rect x="394.5" y="462.03" width="6.6" height="64.97" fill="#6b6b6b" stroke="#4a4a4a" stroke-width="0.8"/>
<path d="M397.8 462.03V448.25M396.2 448.25H399.4" stroke="#3c3c3c" stroke-width="0.8" fill="none"/>
<rect x="407.19" y="469.58" width="6.6" height="57.42" fill="#6b6b6b" stroke="#4a4a4a" stroke-width="0.8"/>
<path d="M410.49 469.58V447.27M408.89 447.27H412.09" stroke="#3c3c3c" stroke-width="0.8" fill="none"/>
<rect x="432.58" y="481.06" width="6.6" height="45.94" fill="#d6d6d6" stroke="#5a5a5a" stroke-width="0.8"/>
<path d="M435.88 481.06V479.09M434.28 479.09H437.48" stroke="#3c3c3c" stroke-width="0.8" fill="none"/>
<rect x="445.27" y="471.88" width="6.6" height="55.12" fill="#6b6b6b" stroke="#4a4a4a" stroke-width="0.8"/>
<path d="M448.57 471.88V464.66M446.97 464.66H450.17" stroke="#3c3c3c" stroke-width="0.8" fill="none"/>
<rect x="457.96" y="466.62" width="6.6" height="60.38" fill="#6b6b6b" stroke="#4a4a4a" stroke-width="0.8"/>
<path d="M461.26 466.62V454.81M459.66 454.81H462.86" stroke="#3c3c3c" stroke-width="0.8" fill="none"/>
<rect x="470.65" y="481.06" width="6.6" height="45.94" fill="#6b6b6b" stroke="#4a4a4a" stroke-width="0.8"/>
<path d="M473.95 481.06V468.59M472.35 468.59H475.55" stroke="#3c3c3c" stroke-width="0.8" fill="none"/>
<text transform="translate(326.55 535) rotate(-45) scale(0.99 1)" text-anchor="end" font-size="7.2">10 nmol/L RG7388_no RT</text>
<text transform="translate(339.24 535) rotate(-45) scale(0.99 1)" text-anchor="end" font-size="7.2">50 nmol/L RG7388_no RT</text>
<text transform="translate(351.93 535) rotate(-45) scale(0.99 1)" text-anchor="end" font-size="7.2">100 nmol/L RG7388_no RT</text>
<text transform="translate(375.72 534.5) rotate(-45) scale(0.99 1)" text-anchor="end" font-size="7.2">DMSO_2 Gy</text>
<text transform="translate(388.41 534.5) rotate(-45) scale(0.99 1)" text-anchor="end" font-size="7.2">10 nmol/L RG7388_2 Gy</text>
<text transform="translate(401.1 534.5) rotate(-45) scale(0.99 1)" text-anchor="end" font-size="7.2">50 nmol/L RG7388_2 Gy</text>
<text transform="translate(413.79 534.5) rotate(-45) scale(0.99 1)" text-anchor="end" font-size="7.2">100 nmol/L RG7388_2 Gy</text>
<text transform="translate(439.18 534.5) rotate(-45) scale(0.99 1)" text-anchor="end" font-size="7.2">DMSO_4 Gy</text>
<text transform="translate(451.87 534.5) rotate(-45) scale(0.99 1)" text-anchor="end" font-size="7.2">10 nmol/L RG7388_4 Gy</text>
<text transform="translate(464.56 534.5) rotate(-45) scale(0.99 1)" text-anchor="end" font-size="7.2">50 nmol/L RG7388_4 Gy</text>
<text transform="translate(477.25 534.5) rotate(-45) scale(0.99 1)" text-anchor="end" font-size="7.2">100 nmol/L RG7388_4 Gy</text>
<text transform="translate(397 416.4) scale(0.9523 1)" text-anchor="middle" font-size="8.4" font-weight="bold" style="fill:#0a0a0a">Murine neurons</text>
<text transform="translate(283.5 470.4) rotate(-90) scale(0.9478 1)" text-anchor="middle" font-size="8.5">Cell viability in relation</text>
<text transform="translate(295 470.4) rotate(-90) scale(0.8966 1)" text-anchor="middle" font-size="8.5">to "DMSO_no RT"</text>
</svg>
</body></html>
